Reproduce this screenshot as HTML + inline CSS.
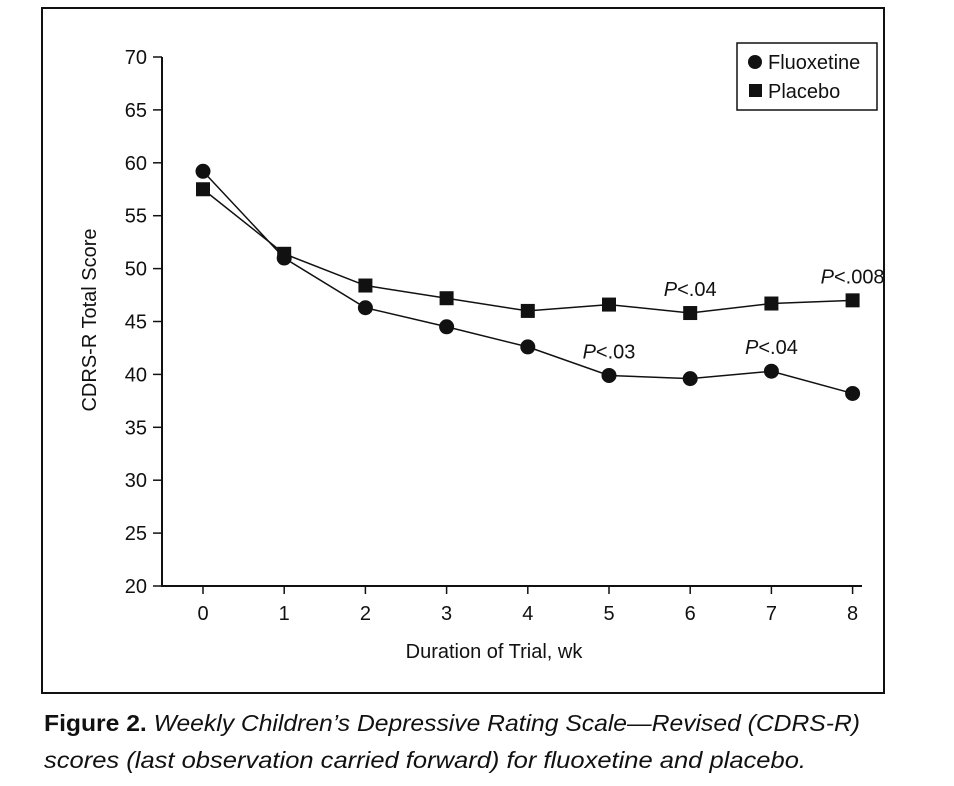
<!DOCTYPE html>
<html><head><meta charset="utf-8"><style>
body{margin:0;background:#fff;width:954px;height:781px;overflow:hidden}
svg text{font-family:"Liberation Sans Narrow","Liberation Sans",sans-serif;fill:#111}
</style></head><body>
<svg id="chart" width="954" height="781" xmlns="http://www.w3.org/2000/svg">
<rect x="42" y="8" width="842" height="685" fill="none" stroke="#111" stroke-width="2"/>
<g id="axes"></g>
<g id="marks"></g>
<g>
<rect x="737" y="43" width="140" height="67" fill="#fff" stroke="#111" stroke-width="1.5"/>
<circle cx="755" cy="62" r="7" fill="#111"/>
<text x="768" y="69" font-size="20">Fluoxetine</text>
<rect x="749" y="84" width="13" height="13" fill="#111"/>
<text x="768" y="98" font-size="20">Placebo</text>
</g>
<text x="494" y="658" font-size="20" text-anchor="middle">Duration of Trial, wk</text>
<text transform="translate(96,320) rotate(-90)" font-size="20" text-anchor="middle">CDRS-R Total Score</text>
<text x="44" y="731" font-size="23" textLength="816" lengthAdjust="spacingAndGlyphs"><tspan font-weight="bold" font-style="normal">Figure 2.</tspan><tspan font-style="italic"> Weekly Children’s Depressive Rating Scale—Revised (CDRS-R)</tspan></text>
<text x="44" y="768" font-size="23" font-style="italic" textLength="762" lengthAdjust="spacingAndGlyphs">scores (last observation carried forward) for fluoxetine and placebo.</text>
</svg>
<script>
const weeks=[0,1,2,3,4,5,6,7,8];
const fluoxetine=[59.2,51.0,46.3,44.5,42.6,39.9,39.6,40.3,38.2];
const placebo=[57.5,51.4,48.4,47.2,46.0,46.6,45.8,46.7,47.0];
const yTicks=[20,25,30,35,40,45,50,55,60,65,70];
const pLabels=[{w:5,v:39.9,t:"P<.03"},{w:6,v:45.8,t:"P<.04"},{w:7,v:40.3,t:"P<.04"},{w:8,v:47.0,t:"P<.008"}];
const NS="http://www.w3.org/2000/svg";
const X=w=>203+w*81.2;
const Y=v=>586-(v-20)*10.58;
function mk(tag,attrs,parent){const e=document.createElementNS(NS,tag);for(const k in attrs)e.setAttribute(k,attrs[k]);parent.appendChild(e);return e;}
const ax=document.getElementById('axes'),mg=document.getElementById('marks');
let l=mk('line',{x1:162,y1:Y(70),x2:162,y2:587,stroke:'#111','stroke-width':2},ax);


l=mk('line',{x1:161,y1:586,x2:862,y2:586,stroke:'#111','stroke-width':2},ax);


yTicks.forEach(v=>{
 const t=mk('line',{x1:153,y1:Y(v),x2:162,y2:Y(v),stroke:'#111','stroke-width':1.5},ax);
 
 
 const s=mk('text',{x:147,y:Y(v)+7,'font-size':20,'text-anchor':'end'},ax);s.textContent=v;
 
 
});
weeks.forEach(w=>{
 const t=mk('line',{x1:X(w),y1:586,x2:X(w),y2:594,stroke:'#111','stroke-width':1.5},ax);
 
 
 const s=mk('text',{x:X(w),y:620,'font-size':20,'text-anchor':'middle'},ax);s.textContent=w;
 
 
});
function series(vals,name,shape){
 const p=mk('polyline',{points:vals.map((v,i)=>X(weeks[i])+','+Y(v)).join(' '),fill:'none',stroke:'#111','stroke-width':1.5},mg);
 
 
 vals.forEach((v,i)=>{
  let m;
  if(shape==='c')m=mk('circle',{cx:X(weeks[i]),cy:Y(v),r:7.5,fill:'#111'},mg);
  else m=mk('rect',{x:X(weeks[i])-7,y:Y(v)-7,width:14,height:14,fill:'#111'},mg);
  
  
 });
}
series(placebo,'placebo','s');
series(fluoxetine,'fluoxetine','c');
pLabels.forEach(p=>{
 const s=mk('text',{x:X(p.w),y:Y(p.v)-17,'font-size':20,'text-anchor':'middle'},mg);
 s.innerHTML='<tspan font-style="italic">P</tspan>'+p.t.slice(1).replace('<','&lt;');
 
 
});
</script>
</body></html>
